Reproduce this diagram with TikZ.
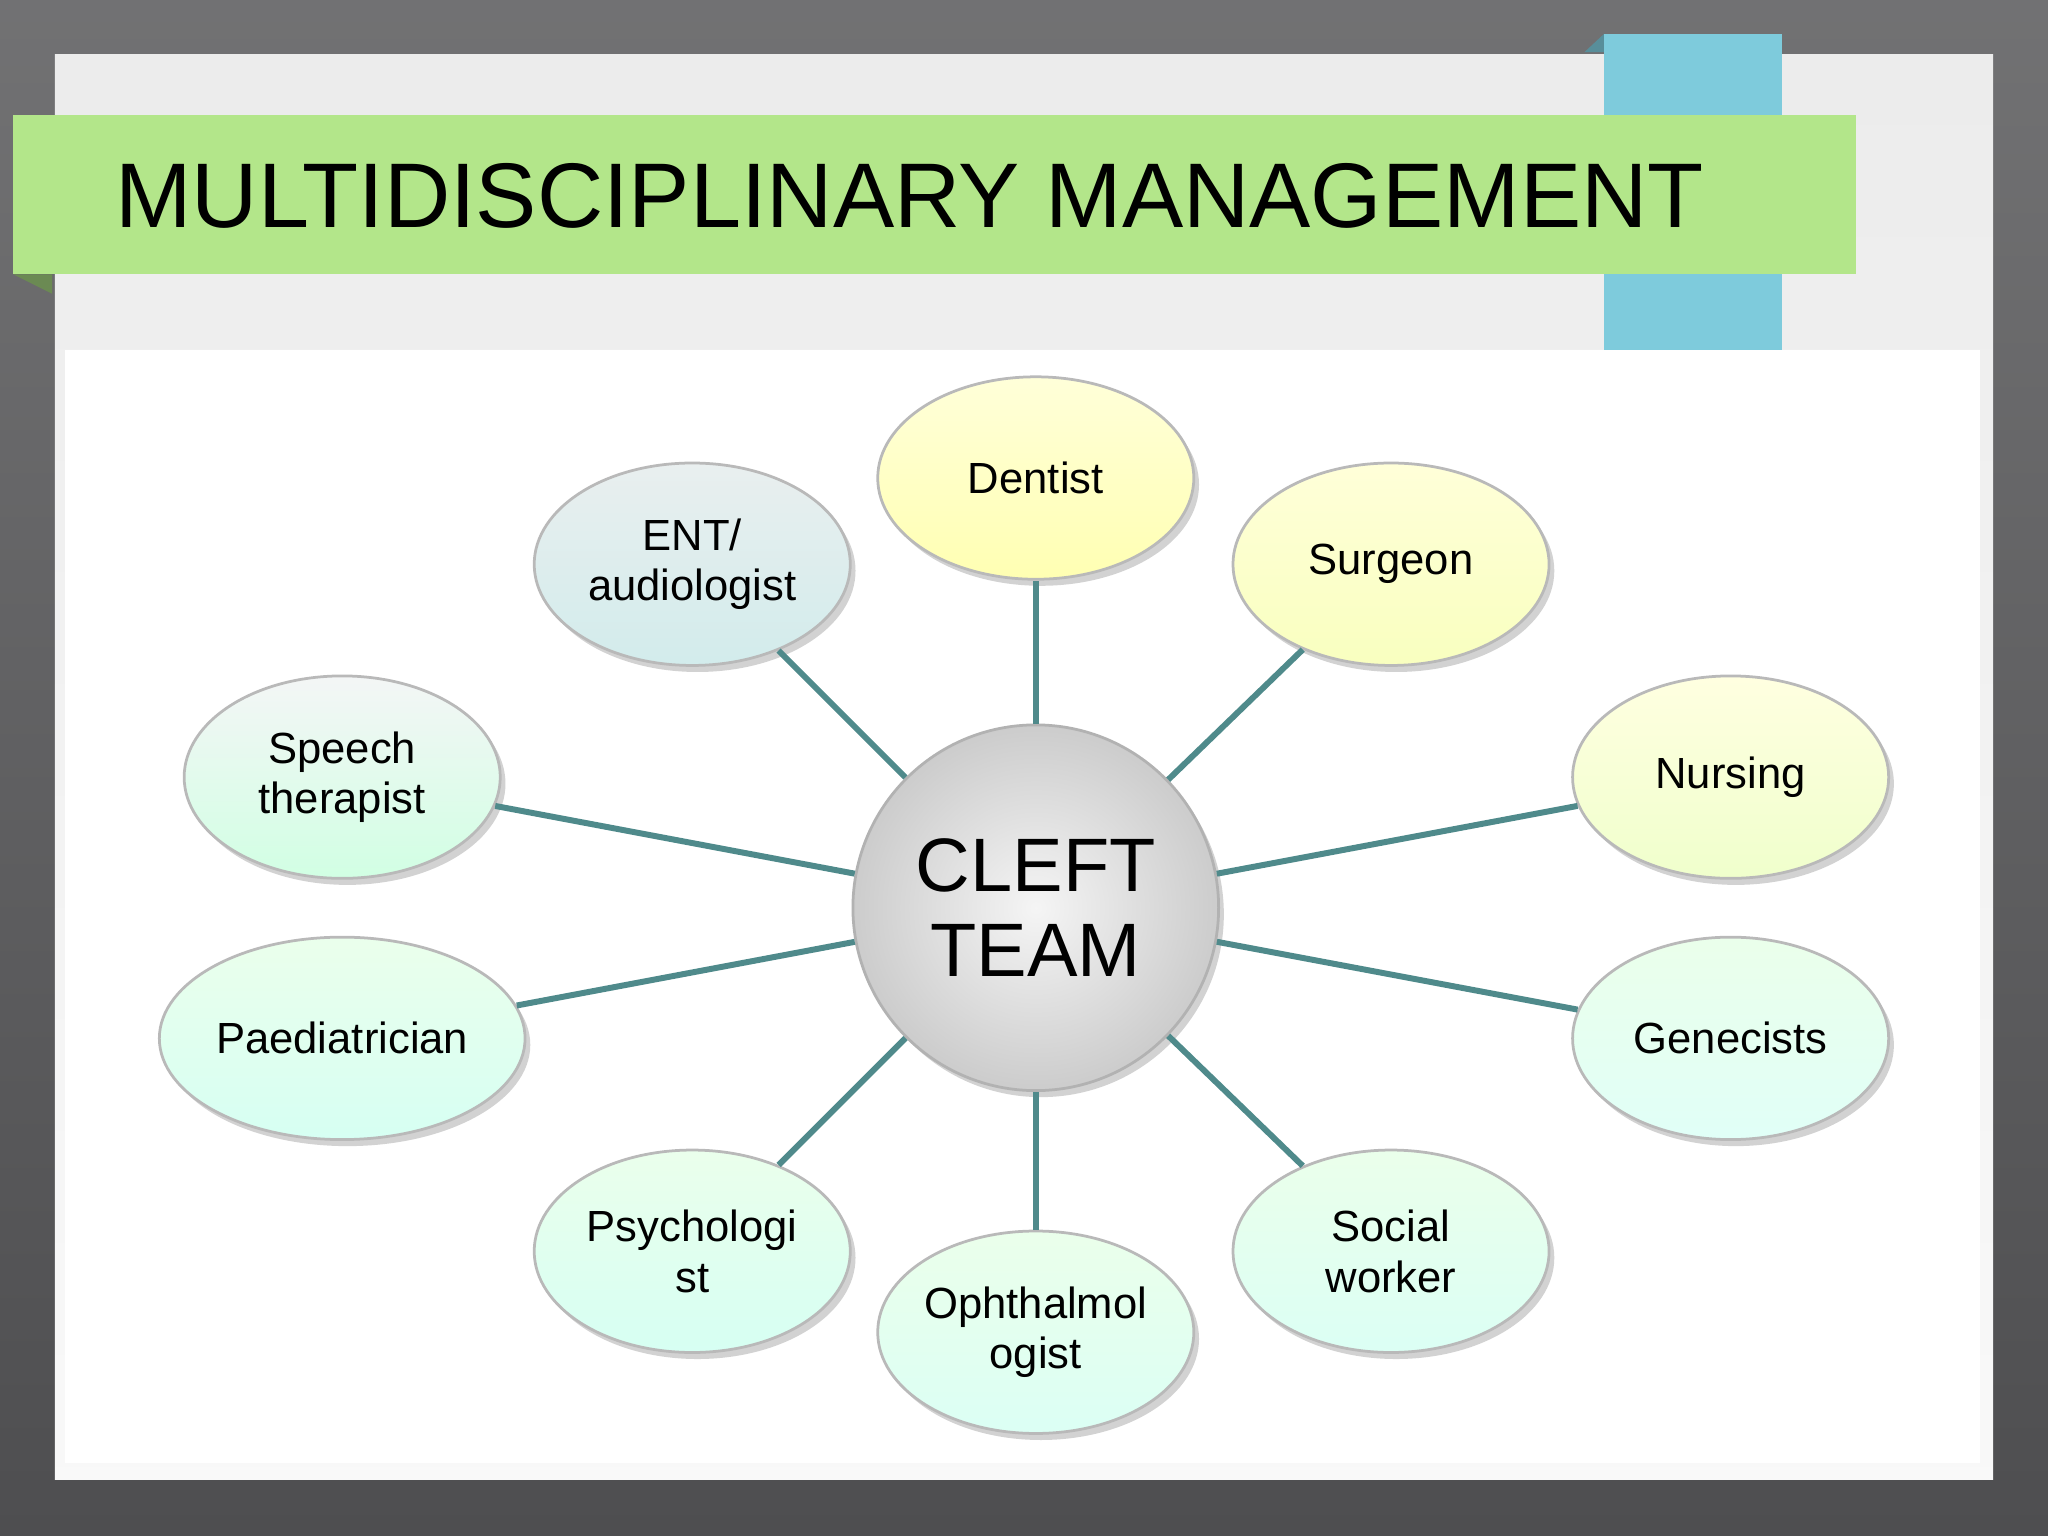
\documentclass[tikz,border=0pt]{standalone}
\usepackage{fontspec}
\setmainfont{Liberation Sans}
\usetikzlibrary{shapes.geometric,shadows}
\definecolor{bgdark}{HTML}{4E4E50}
\definecolor{banner}{HTML}{B3E68A}
\definecolor{bluebar}{HTML}{7ECBDC}
\definecolor{conn}{HTML}{4F8A8B}
\tikzset{
 member/.style={ellipse, draw=gray!55, line width=0.6pt, minimum width=2.42cm, minimum height=1.55cm, inner sep=0pt, align=center, font=\fontsize{9.5}{11}\selectfont, drop shadow={opacity=0.35, shadow xshift=0.04cm, shadow yshift=-0.05cm}},
 link/.style={conn, line width=1.3pt},
}
\begin{document}
\begin{tikzpicture}
\useasboundingbox (0,0) rectangle (15.68,-11.76);
\shade[top color=bgdark!80, bottom color=bgdark] (0,0) rectangle (15.68,-11.76);
\shade[top color=gray!15, bottom color=gray!5] (0.42,-0.42) rectangle (15.26,-11.33);
\fill[bluebar] (12.28,-0.26) rectangle (13.64,-2.68);
\fill[bluebar!70!black] (12.13,-0.40) -- (12.28,-0.26) -- (12.28,-0.40) -- cycle;
\fill[banner] (0.10,-0.88) rectangle (14.21,-2.10);
\fill[banner!60!black] (0.10,-2.10) -- (0.40,-2.10) -- (0.40,-2.25) -- cycle;
\node[anchor=west, font=\fontsize{20}{22}\selectfont] (title) at (0.76,-1.50) {MULTIDISCIPLINARY MANAGEMENT};
\fill[white] (0.50,-2.68) rectangle (15.16,-11.20);
\node[circle, minimum size=2.80cm, inner sep=0pt, draw=gray!60, line width=0.6pt, inner color=gray!8, outer color=gray!40, align=center, font=\fontsize{16.5}{18.5}\selectfont, drop shadow={opacity=0.35, shadow xshift=0.04cm, shadow yshift=-0.05cm}] (c) at (7.93,-6.95) {CLEFT\\TEAM};
\node[member, top color=yellow!15, bottom color=yellow!30!white] (den) at (7.93,-3.66) {Dentist};
\node[member, top color=yellow!15, bottom color=green!10!yellow!25] (sur) at (10.65,-4.32) {Surgeon};
\node[member, top color=yellow!12, bottom color=green!30!yellow!20] (nur) at (13.25,-5.95) {Nursing};
\node[member, top color=green!8, bottom color=green!25!cyan!12] (gen) at (13.25,-7.95) {Genecists};
\node[member, top color=green!8, bottom color=green!30!cyan!14] (soc) at (10.65,-9.58) {Social\\worker};
\node[member, top color=green!8, bottom color=green!30!cyan!14] (oph) at (7.93,-10.20) {Ophthalmol\\ogist};
\node[member, top color=cyan!5!green!8, bottom color=green!30!cyan!16] (psy) at (5.30,-9.58) {Psychologi\\st};
\node[member, minimum width=2.80cm, top color=cyan!5!green!8, bottom color=green!30!cyan!16] (pae) at (2.62,-7.95) {Paediatrician};
\node[member, top color=cyan!10!gray!8, bottom color=cyan!40!green!18] (spe) at (2.62,-5.95) {Speech\\therapist};
\node[member, top color=cyan!15!gray!15, bottom color=cyan!40!gray!25] (ent) at (5.30,-4.32) {ENT/\\audiologist};
\foreach \n in {den,sur,nur,gen,soc,oph,psy,pae,spe,ent} \draw[link] (c) -- (\n);
\end{tikzpicture}
\end{document}
